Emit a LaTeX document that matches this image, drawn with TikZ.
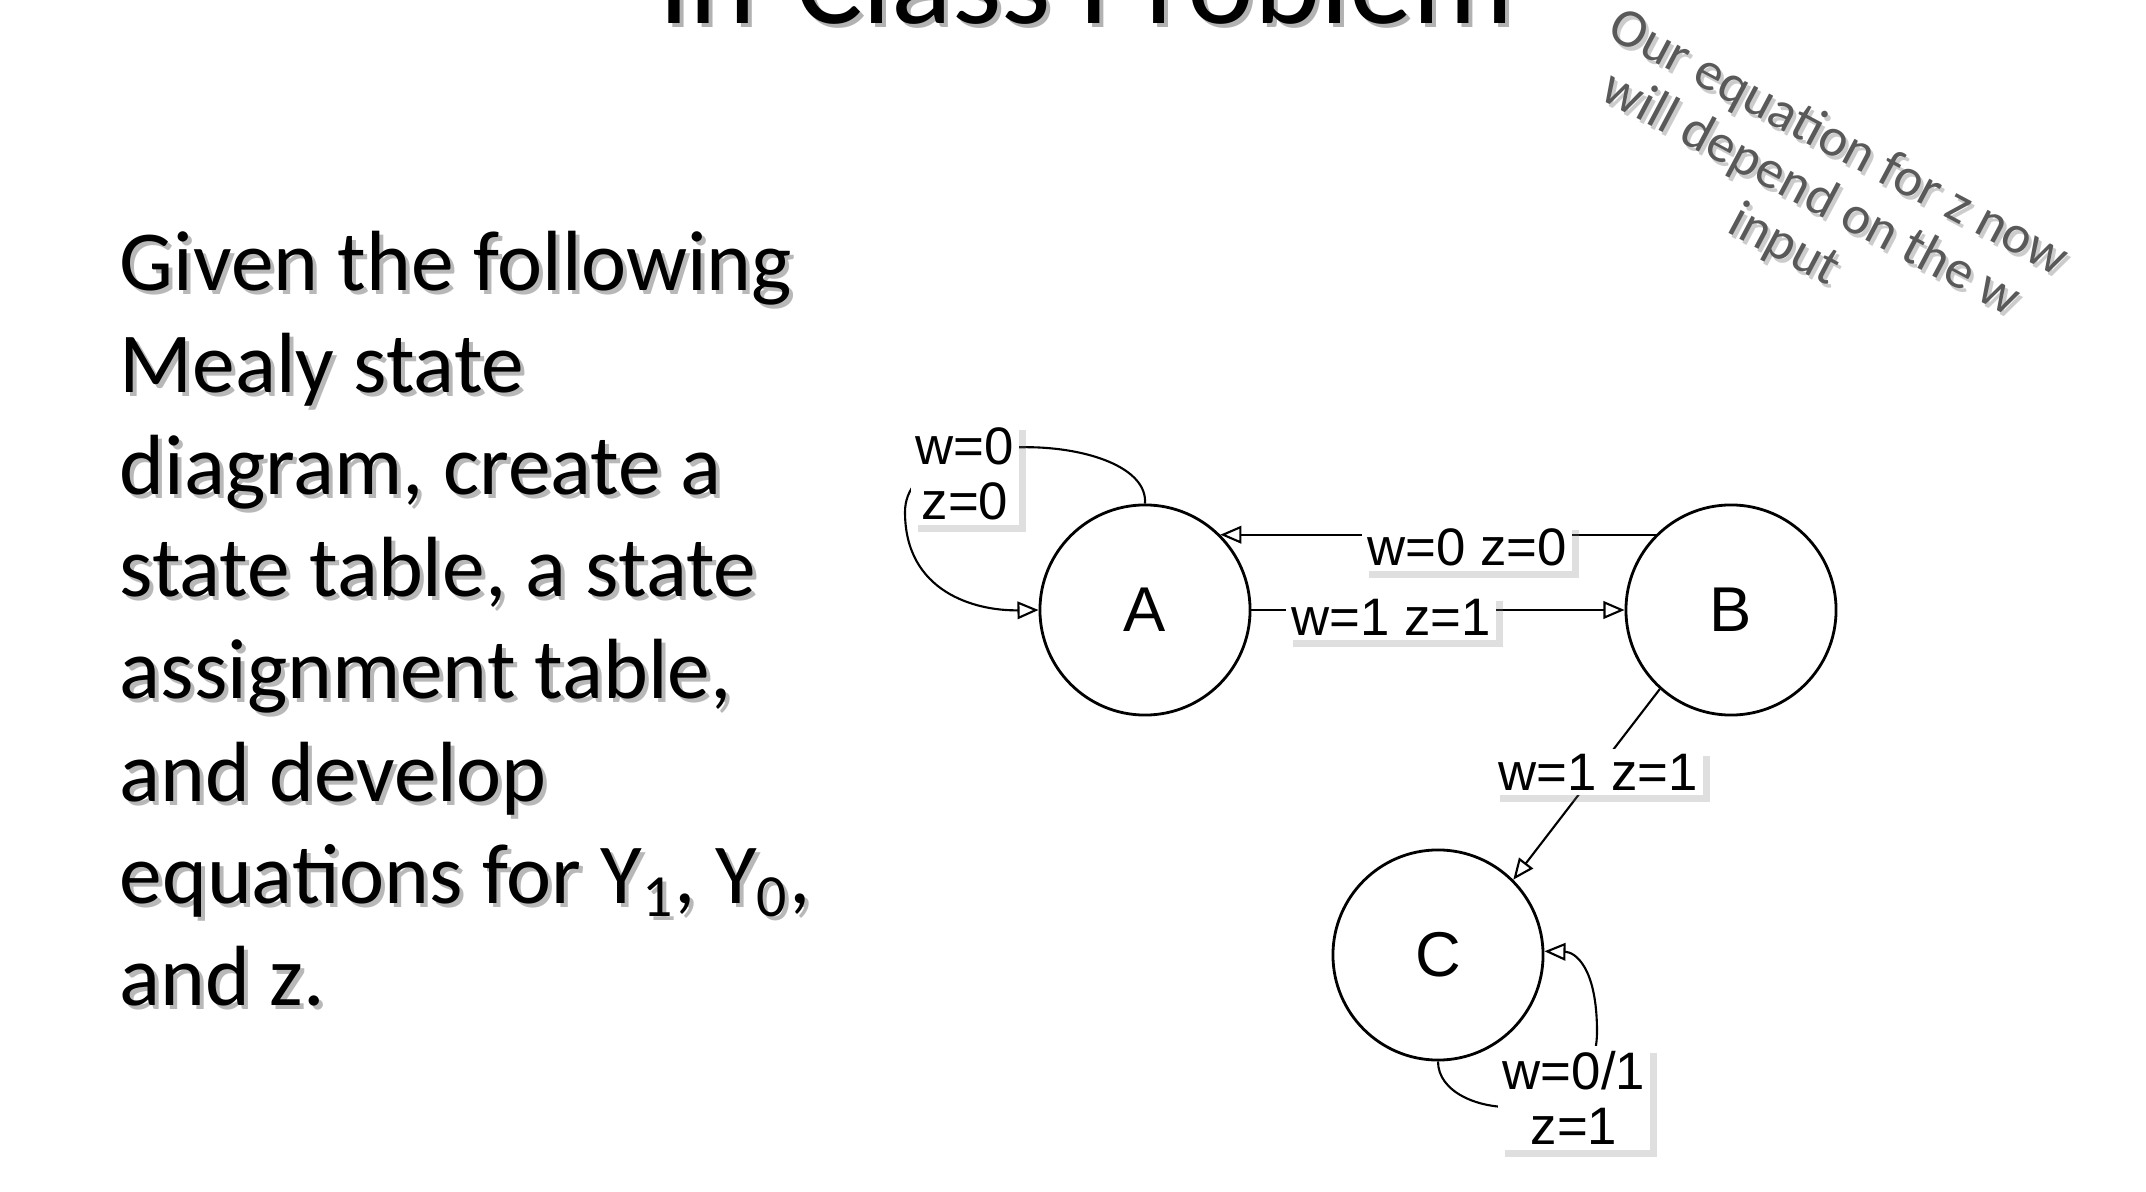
\documentclass[tikz,border=0pt]{standalone}
\usepackage{fontspec}
\setmainfont{Carlito}
\newfontfamily\arialf{Liberation Sans}
\usetikzlibrary{arrows.meta,shadows}
\tikzset{
  st/.style={circle,draw,line width=0.8pt,minimum size=2.1cm,inner sep=0pt,font=\arialf\fontsize{18}{20}\selectfont},
  lbl/.style={fill=white,inner sep=1.5pt,align=center,font=\arialf\fontsize{15}{15.5}\selectfont,
    drop shadow={opacity=0.25,shadow xshift=2pt,shadow yshift=-2pt}},
  edge/.style={line width=0.6pt,-{Triangle[open,length=6pt,width=5pt]}},
  body/.style={anchor=base west,inner sep=0pt,font=\fontsize{24.3}{25}\selectfont},
}
\begin{document}
\begin{tikzpicture}[x=0.01cm,y=-0.01cm]
\useasboundingbox (0,0) rectangle (2146,1192);
% title
\node[anchor=base,inner sep=0pt,text=black!30,font=\fontsize{36}{36}\selectfont] at (1090,28) {In-Class Problem};
\node[anchor=base,inner sep=0pt,font=\fontsize{36}{36}\selectfont] (title) at (1086,24) {In-Class Problem};
% body text
\foreach \t [count=\i from 0] in {Given the following,Mealy state,{diagram, create a},{state table, a state},{assignment table,},and develop,{equations for Y\textsubscript{1}, Y\textsubscript{0},},and z.}{
  \node[body,text=black!28] at (123,295+\i*102) {\t};
  \node[body] (l\i) at (119,291+\i*102) {\t};
}
% rotated note
\node[rotate=-28,align=center,text=black!20,font=\fontsize{15.5}{16.5}\selectfont] at (1814,199) {Our equation for z now\\will depend on the w\\input};
\node[rotate=-28,align=center,text=black!65,font=\fontsize{15.5}{16.5}\selectfont] (note) at (1811,195) {Our equation for z now\\will depend on the w\\input};
\begin{scope}[shift={(-15,-8)}]
% states
\node[st] (A) at (1160,618) {A};
\node[st] (B) at (1746,618) {B};
\node[st] (C) at (1453,963) {C};
% edges
\draw[edge] (A.north) .. controls (1165,440) and (920,430) .. (920,520) .. controls (920,600) and (990,619) .. (A.west);
\node[lbl] (la) at (980,482) {w=0\\z=0};
\draw[edge] (B.135) -- (A.45);
\node[lbl] (lba) at (1482,555) {w=0 z=0};
\draw[edge] (A.east) -- (B.west);
\node[lbl] (lab) at (1406,625) {w=1 z=1};
\draw[edge] (B.228) -- (C.45);
\node[lbl] (lbc) at (1613,780) {w=1 z=1};
\draw[edge] (C.south) .. controls (1453,1130) and (1612,1140) .. (1612,1040) .. controls (1612,975) and (1590,960) .. (C.2);
\node[lbl] (lc) at (1589,1106) {w=0/1\\z=1};
\end{scope}
\end{tikzpicture}
\end{document}
